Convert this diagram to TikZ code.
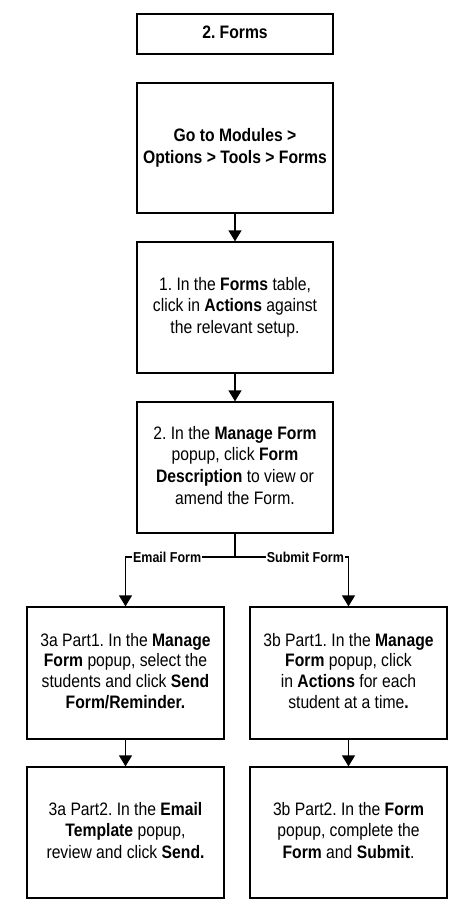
\documentclass[tikz,border=0pt]{standalone}
\usepackage{fontspec}
\setmainfont{Liberation Sans}
\usetikzlibrary{arrows.meta}
\frenchspacing
\newcommand\tl[2][19]{\scalebox{1}[1.15]{\fontsize{15.7}{#1}\selectfont\begin{tabular}{@{}c@{}}#2\end{tabular}}}
\begin{document}
\begin{tikzpicture}[x=1pt,y=1pt,
  box/.style={draw=black,line width=1.3pt,fill=white,minimum width=196pt,inner sep=0pt,align=center},
  arr/.style={line width=1.3pt,-{Triangle[width=13pt,length=11pt]}},
  lbl/.style={fill=white,inner sep=1pt}]
\useasboundingbox (0,0) rectangle (474,-905);
\node[box,minimum height=40pt] (b0) at (235,-34) {\raisebox{-1pt}{\tl{\textbf{2. Forms}}}};
\node[box,minimum height=130pt] (b1) at (235,-148) {\tl{\textbf{Go to Modules >}\\\textbf{Options > Tools > Forms}}};
\node[box,minimum height=131pt] (b2) at (235,-307.5) {\tl{1. In the \textbf{Forms} table,\\click in \textbf{Actions} against\\the relevant setup.}};
\node[box,minimum height=131pt] (b3) at (235,-467.5) {\tl{2. In the \textbf{Manage Form}\\popup, click \textbf{Form}\\\textbf{Description} to view or\\amend the Form.}};
\node[box,minimum height=132pt,minimum width=197pt] (b4a) at (125.5,-673) {\tl[18]{3a Part1. In the \textbf{Manage}\\\textbf{Form} popup, select the\\students and click \textbf{Send}\\\textbf{Form/Reminder.}}};
\node[box,minimum height=132pt,minimum width=197pt] (b4b) at (348.5,-673) {\tl[18]{3b Part1. In the \textbf{Manage}\\\textbf{Form} popup, click\\in \textbf{Actions} for each\\student at a time\textbf{.}}};
\node[box,minimum height=131pt,minimum width=197pt] (b5a) at (125.5,-832.5) {\tl[18.5]{3a Part2. In the \textbf{Email}\\\textbf{Template} popup,\\review and click \textbf{Send.}}};
\node[box,minimum height=131pt,minimum width=197pt] (b5b) at (348.5,-832.5) {\tl[18.5]{3b Part2. In the \textbf{Form}\\popup, complete the\\\textbf{Form} and \textbf{Submit}.}};
\coordinate (j) at (235,-557);
\draw[arr] (b1) -- (b2);
\draw[arr] (b2) -- (b3);
\draw[line width=1.3pt] (b3.south) -- (j);
\draw[arr] (j) -| node[lbl,pos=0.31] {\scalebox{1}[1.15]{\bfseries\fontsize{12.5}{14}\selectfont Email Form}} (b4a.north);
\draw[arr] (j) -| node[lbl,pos=0.31] {\scalebox{1}[1.15]{\bfseries\fontsize{12.5}{14}\selectfont Submit Form}} (b4b.north);
\draw[arr] (b4a) -- (b5a);
\draw[arr] (b4b) -- (b5b);
\end{tikzpicture}
\end{document}
